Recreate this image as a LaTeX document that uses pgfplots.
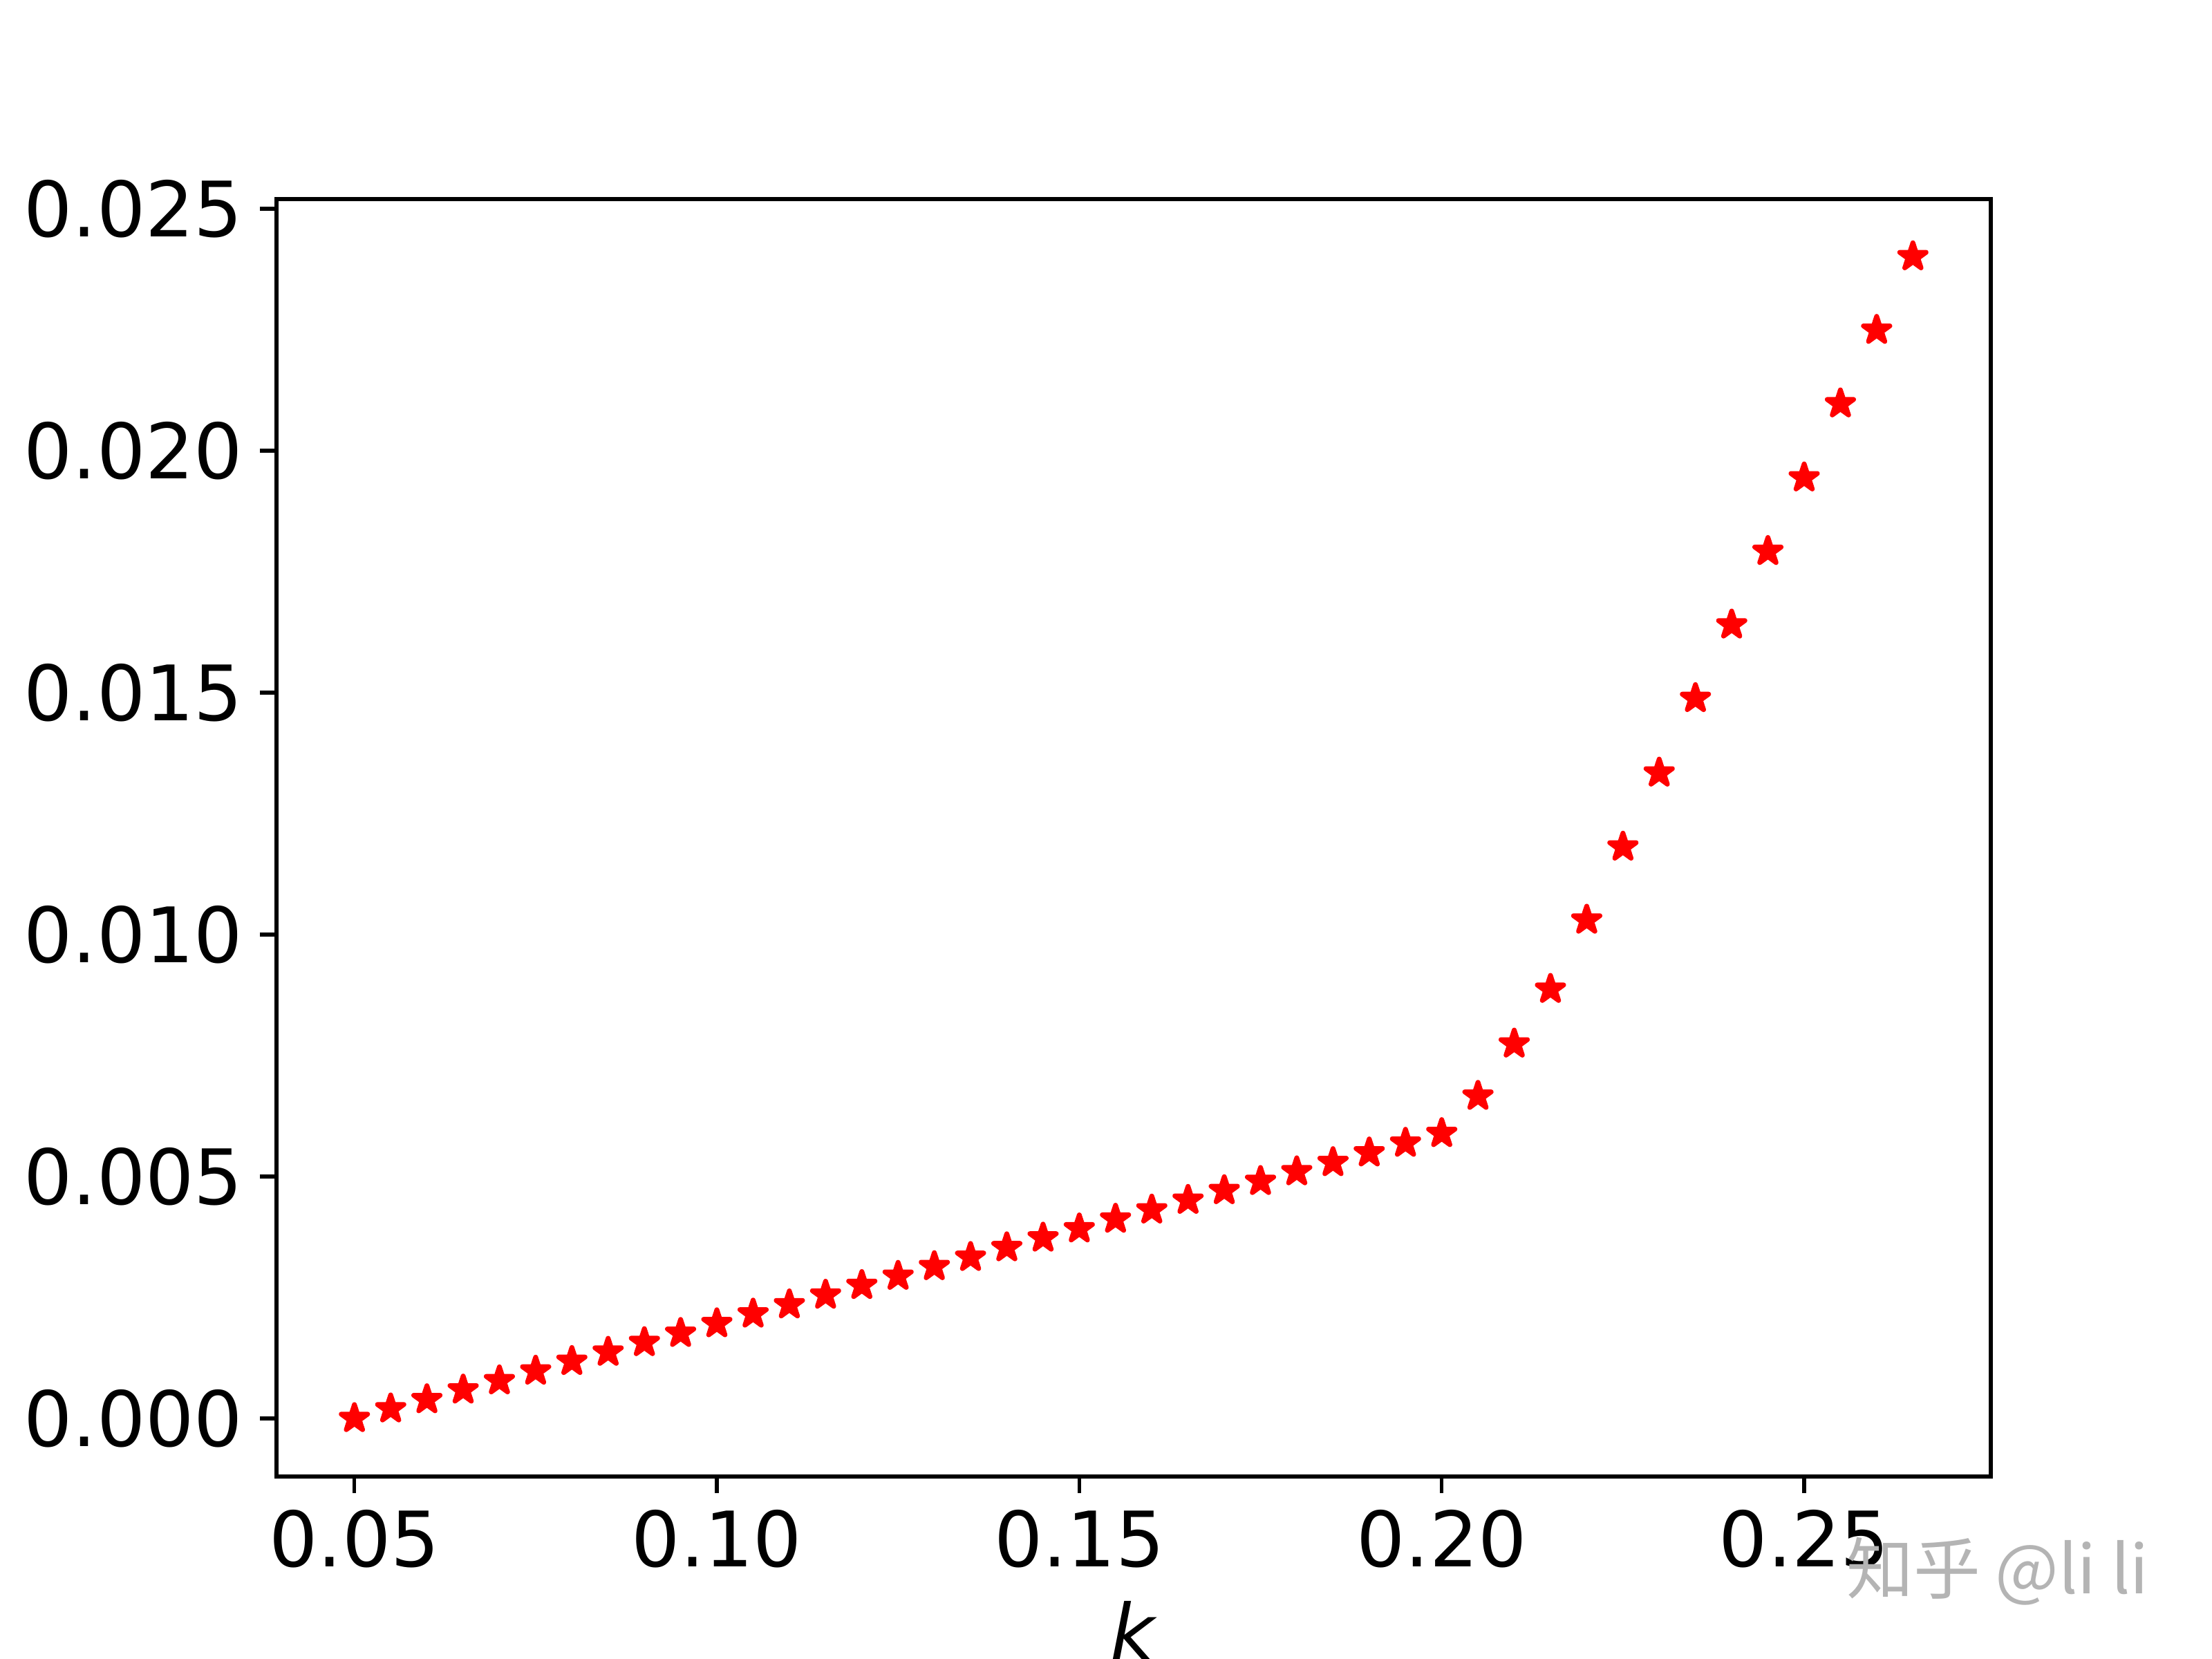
\documentclass[border=0pt]{standalone}
\usepackage{fontspec}
\setmainfont{DejaVu Sans}
\newfontfamily\cjk{Noto Sans CJK SC}
\usepackage{pgfplots}
\pgfplotsset{compat=1.18}
\definecolor{mplred}{RGB}{255,0,0}
\definecolor{wmgray}{RGB}{180,180,180}
\pgfdeclareplotmark{fstar}{%
  \pgfsetroundjoin
  \pgfpathmoveto{\pgfpointpolar{90}{\pgfplotmarksize}}%
  \pgfpathlineto{\pgfpointpolar{126}{0.381966\pgfplotmarksize}}%
  \pgfpathlineto{\pgfpointpolar{162}{\pgfplotmarksize}}%
  \pgfpathlineto{\pgfpointpolar{198}{0.381966\pgfplotmarksize}}%
  \pgfpathlineto{\pgfpointpolar{234}{\pgfplotmarksize}}%
  \pgfpathlineto{\pgfpointpolar{270}{0.381966\pgfplotmarksize}}%
  \pgfpathlineto{\pgfpointpolar{306}{\pgfplotmarksize}}%
  \pgfpathlineto{\pgfpointpolar{342}{0.381966\pgfplotmarksize}}%
  \pgfpathlineto{\pgfpointpolar{18}{\pgfplotmarksize}}%
  \pgfpathlineto{\pgfpointpolar{54}{0.381966\pgfplotmarksize}}%
  \pgfpathclose
  \pgfusepathqfillstroke
}
\begin{document}
\begin{tikzpicture}
\useasboundingbox (0,0) rectangle (6.4in,4.8in);
\begin{axis}[
  at={(0.8in,0.528in)}, anchor=south west,
  scale only axis, width=4.96in, height=3.696in,
  xmin=0.03925, xmax=0.27575, ymin=-0.0012, ymax=0.0252,
  xtick={0.05,0.10,0.15,0.20,0.25},
  ytick={0,0.005,0.010,0.015,0.020,0.025},
  scaled x ticks=false, scaled y ticks=false,
  tick align=outside, tick pos=left,
  major tick length=3.5pt,
  every tick/.style={black, line width=0.8pt},
  axis line style={line width=0.8pt},
  font=\fontsize{16}{19.2}\selectfont,
  /pgf/number format/assume math mode=true,
  x tick label style={/pgf/number format/.cd, fixed, fixed zerofill, precision=2},
  y tick label style={/pgf/number format/.cd, fixed, fixed zerofill, precision=3},
  xlabel={\textit{k}},
]
\addplot[only marks, mark=fstar, mark size=2.9pt, draw=mplred, fill=mplred, line width=1pt] coordinates {
(0.050,0.00000) (0.055,0.00020) (0.060,0.00039) (0.065,0.00059) (0.070,0.00078)
(0.075,0.00098) (0.080,0.00118) (0.085,0.00137) (0.090,0.00157) (0.095,0.00176)
(0.100,0.00196) (0.105,0.00216) (0.110,0.00235) (0.115,0.00255) (0.120,0.00275)
(0.125,0.00294) (0.130,0.00314) (0.135,0.00333) (0.140,0.00353) (0.145,0.00373)
(0.150,0.00392) (0.155,0.00412) (0.160,0.00431) (0.165,0.00451) (0.170,0.00471)
(0.175,0.00490) (0.180,0.00510) (0.185,0.00529) (0.190,0.00549) (0.195,0.00569)
(0.200,0.00589) (0.205,0.00666) (0.210,0.00774) (0.215,0.00887) (0.220,0.01030)
(0.225,0.01181) (0.230,0.01334) (0.235,0.01488) (0.240,0.01640) (0.245,0.01792)
(0.250,0.01944) (0.255,0.02097) (0.260,0.02249) (0.265,0.02401)
};
\end{axis}
\node[anchor=west, text=wmgray, inner sep=0pt, font=\cjk\fontsize{14}{16}\selectfont] at (5.34in,0.254in) {知乎 @li li};
\end{tikzpicture}
\end{document}
